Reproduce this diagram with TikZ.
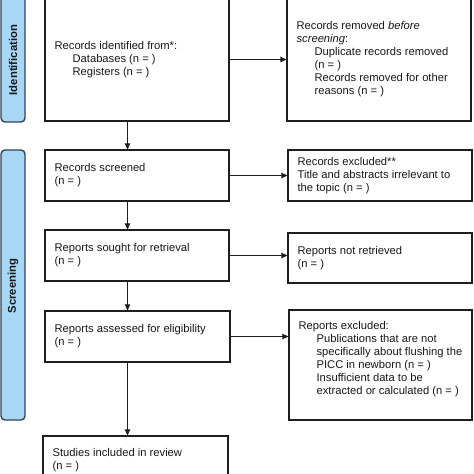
\documentclass[tikz,border=0pt]{standalone}
\usepackage{fontspec}
\setmainfont{Liberation Sans}
\usetikzlibrary{arrows.meta}
\definecolor{boxline}{RGB}{30,30,30}
\definecolor{txtcol}{RGB}{25,25,25}
\definecolor{sidefill}{RGB}{168,214,245}
\definecolor{sideline}{RGB}{50,68,90}
\begin{document}
\begin{tikzpicture}[x=1pt,y=-1pt,
  box/.style={draw=boxline,line width=1.2pt,fill=white,inner sep=0pt},
  side/.style={draw=sideline,line width=1.4pt,fill=sidefill,rounded corners=4pt,inner sep=0pt,minimum width=24pt},
  sidetext/.style={rotate=90,font=\fontsize{11.3}{13}\selectfont\bfseries,text=txtcol,inner sep=0pt},
  txt/.style={inner sep=0pt,anchor=west,align=left,font=\fontsize{11.2}{13}\selectfont,text=txtcol},
  arr/.style={draw=boxline,line width=0.9pt,-{Triangle[length=6pt,width=5.5pt]}}]
\clip (0,0) rectangle (474,474);
\fill[white] (0,0) rectangle (474,474);
% sidebars
\node[side,minimum height=132pt] (idside) at (13,56) {};
\node[sidetext] (idlabel) at (13,60) {Identification};
\node[side,minimum height=270pt] (scside) at (13,285) {};
\node[sidetext] (sclabel) at (13,286) {Screening};
% boxes
\node[box,minimum width=184pt,minimum height=123pt] (ident) at (137,59.5) {};
\node[box,minimum width=184pt,minimum height=123pt] (removed) at (379,59.5) {};
\node[box,minimum width=184pt,minimum height=51pt] (screened) at (137,175.5) {};
\node[box,minimum width=184pt,minimum height=51pt] (excl) at (380,175.5) {};
\node[box,minimum width=184pt,minimum height=51pt] (sought) at (137,255.5) {};
\node[box,minimum width=184pt,minimum height=50pt] (notret) at (380,258) {};
\node[box,minimum width=185pt,minimum height=51pt] (assessed) at (137.5,336.5) {};
\node[box,minimum width=183pt,minimum height=110pt] (repexcl) at (380.5,365) {};
\node[box,minimum width=185pt,minimum height=49pt] (studies) at (135.5,460.5) {};
% texts
\node[txt] (identtxt) at ([xshift=10pt]ident.west) {Records identified from*:\\\hspace*{18pt}Databases (n = )\\\hspace*{18pt}Registers (n = )};
\node[txt] (removedtxt) at ([xshift=10pt]removed.west) {Records removed \textit{before}\\\textit{screening}:\\\hspace*{18pt}Duplicate records removed\\\hspace*{18pt}(n = )\\\hspace*{18pt}Records removed for other\\\hspace*{18pt}reasons (n = )};
\node[txt] (screenedtxt) at ([xshift=10pt]screened.west) {Records screened\\(n = )};
\node[txt] (excltxt) at ([xshift=10pt]excl.west) {Records excluded**\\Title and abstracts irrelevant to\\the topic (n = )};
\node[txt] (soughttxt) at ([xshift=10pt]sought.west) {Reports sought for retrieval\\(n = )};
\node[txt] (notrettxt) at ([xshift=10pt]notret.west) {Reports not retrieved\\(n = )};
\node[txt] (assessedtxt) at ([xshift=10pt]assessed.west) {Reports assessed for eligibility\\(n = )};
\node[txt] (repexcltxt) at ([xshift=10pt,yshift=5.5pt]repexcl.west) {Reports excluded:\\\hspace*{18pt}Publications that are not\\\hspace*{18pt}specifically about flushing the\\\hspace*{18pt}PICC in newborn (n = )\\\hspace*{18pt}Insufficient data to be\\\hspace*{18pt}extracted or calculated (n = )};
\node[txt] (studiestxt) at ([xshift=10pt]studies.west) {Studies included in review\\(n = )};
% connectors
\coordinate (ax) at (127.5,0);
\draw[arr] (ident.south -| ax) -- (screened.north -| ax);
\draw[arr] (screened.south -| ax) -- (sought.north -| ax);
\draw[arr] (sought.south -| ax) -- (assessed.north -| ax);
\draw[arr] (assessed.south -| ax) -- (studies.north -| ax);
\draw[arr] (ident.east) -- (ident.east -| removed.west);
\draw[arr] (screened.east) -- (screened.east -| excl.west);
\draw[arr] (sought.east) -- (sought.east -| notret.west);
\draw[arr] (assessed.east) -- (assessed.east -| repexcl.west);
\end{tikzpicture}
\end{document}
